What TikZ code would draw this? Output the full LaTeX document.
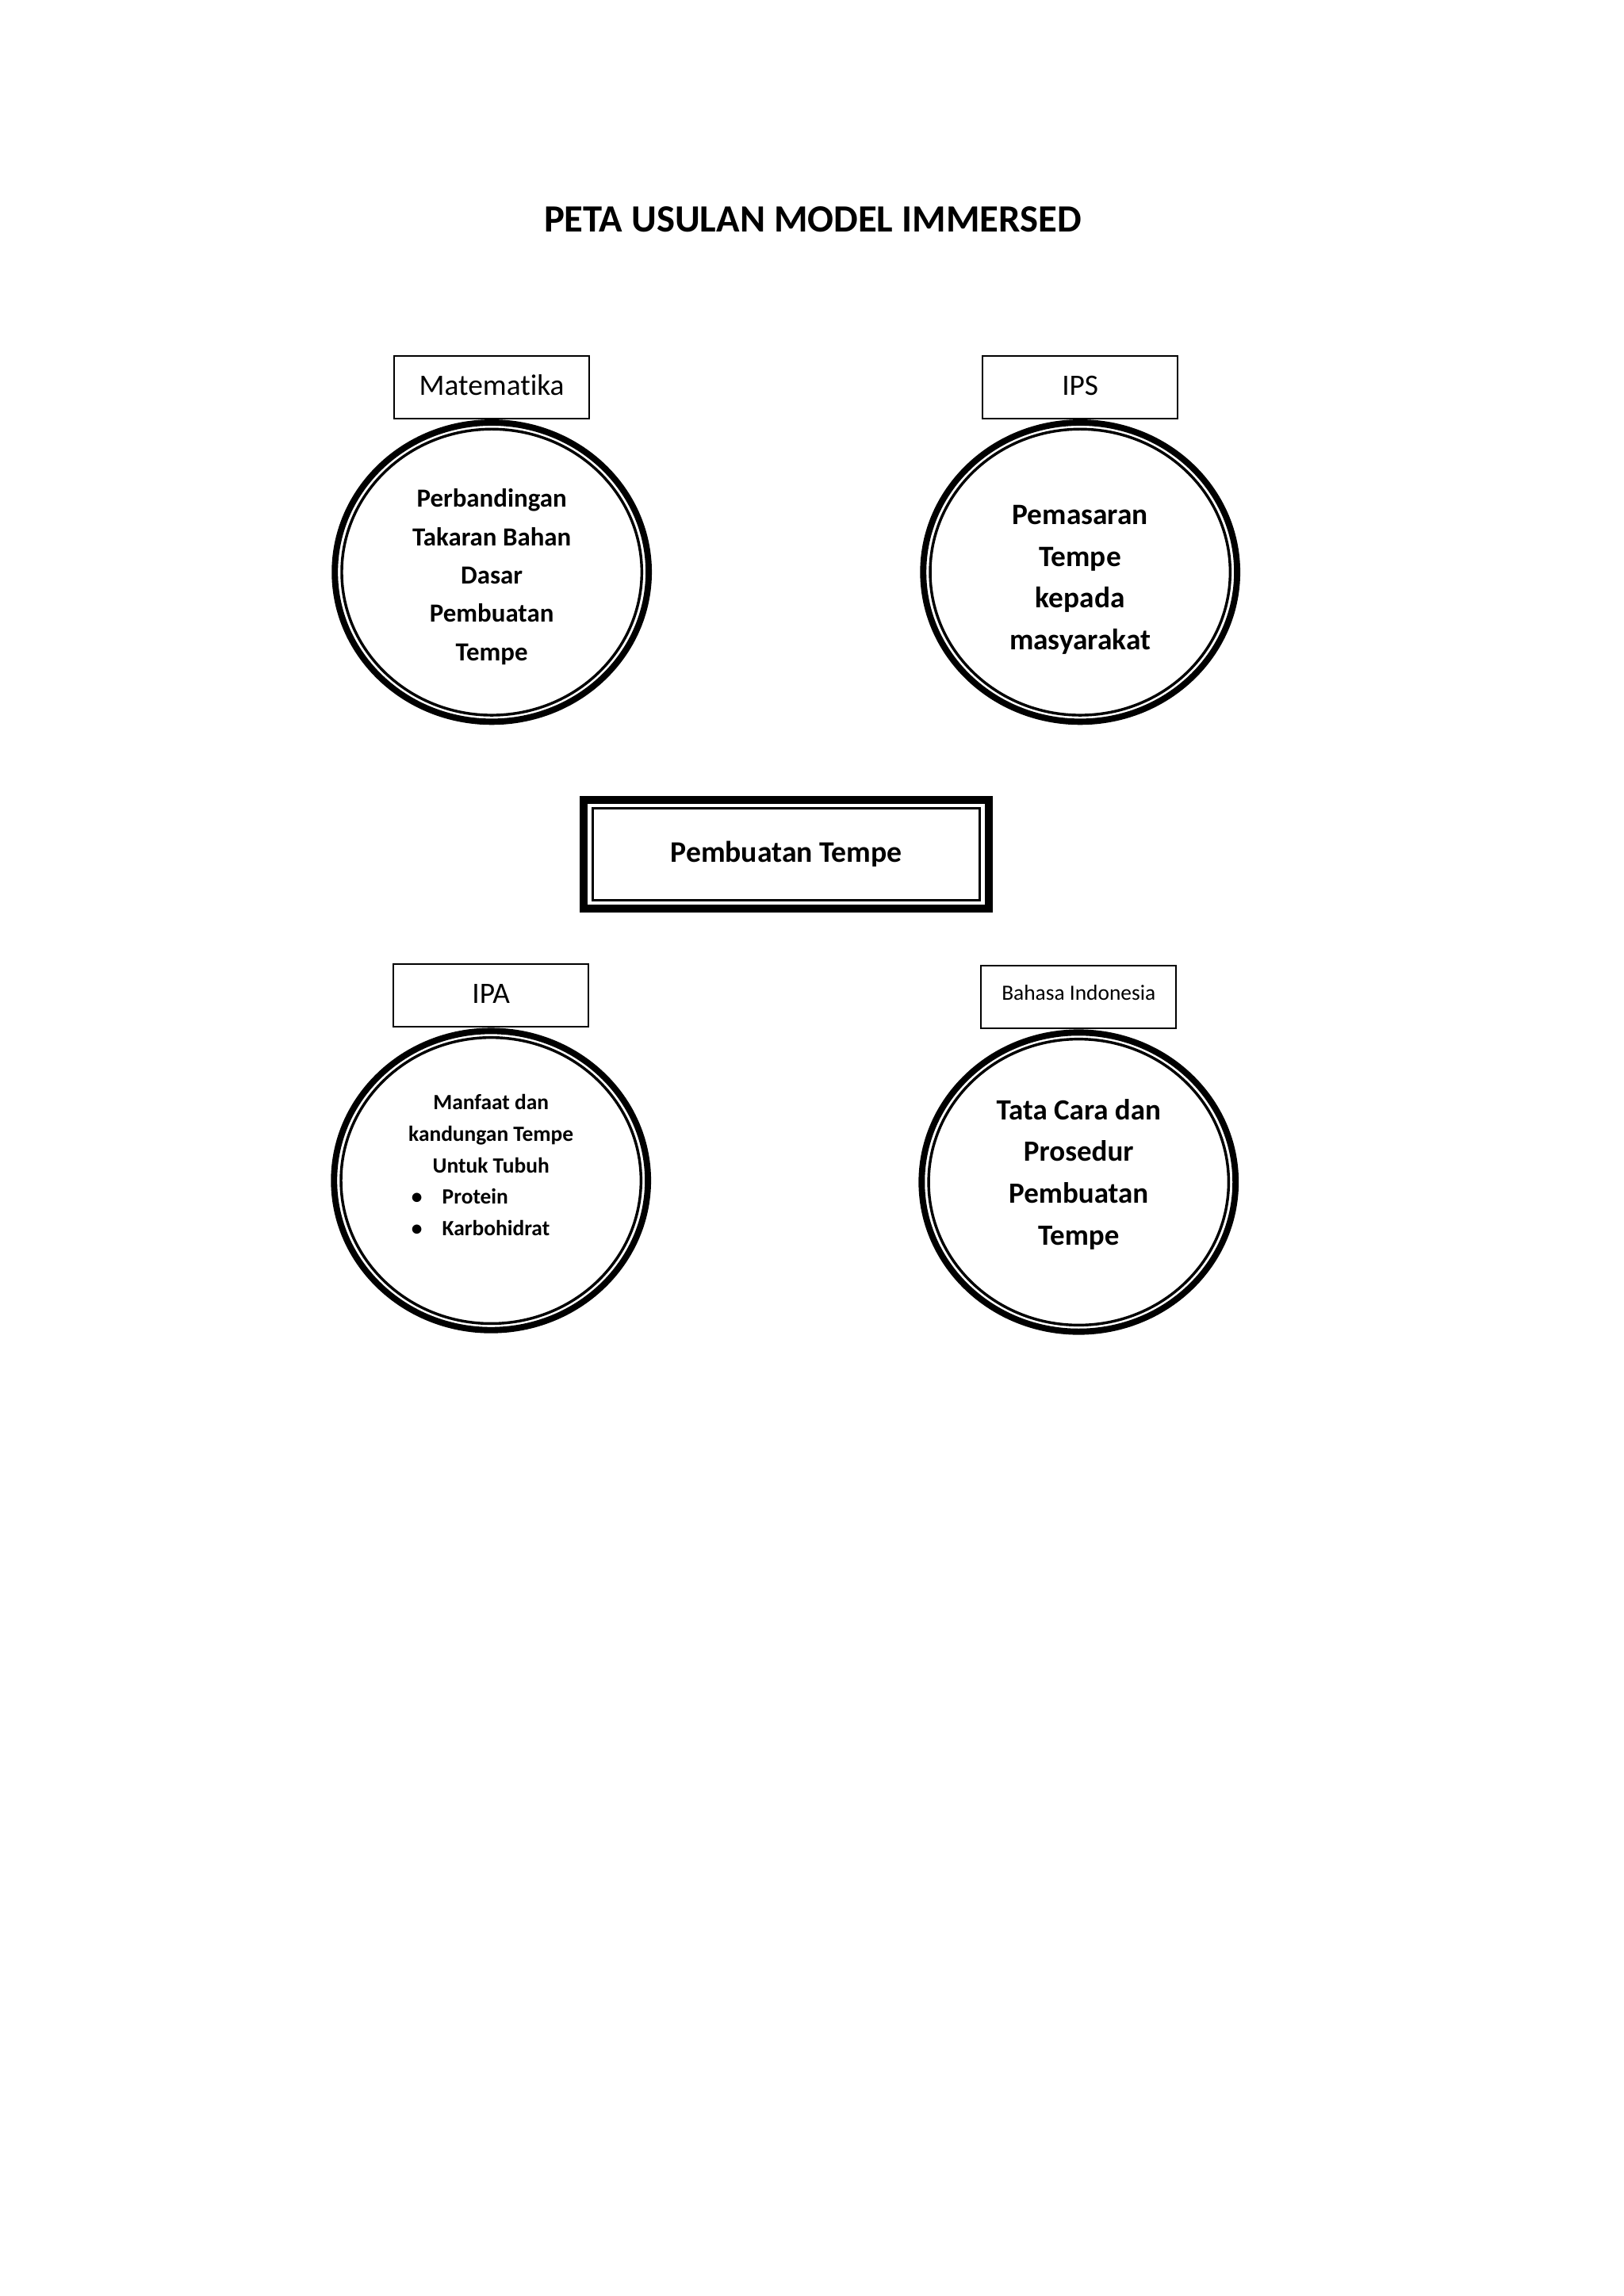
\documentclass[tikz,border=0pt]{standalone}
\usepackage{fontspec}
\setmainfont{Carlito}[Ligatures={NoCommon}]
\usetikzlibrary{shapes.geometric, positioning}
\tikzstyle{subject} = [rectangle, minimum width=2.52cm, minimum height=0.81cm, text centered, draw=black, line width=0.6pt, font=\fontsize{10.9}{13}\selectfont, text height=2.9mm, text depth=0.9mm]
\tikzstyle{ring} = [ellipse, minimum width=4.06cm, minimum height=3.87cm, inner sep=0pt, draw=black, line width=2.3pt]
\tikzstyle{rim} = [ellipse, minimum width=3.88cm, minimum height=3.70cm, inner sep=0pt, draw=black, line width=1pt]
\tikzstyle{topic} = [text centered, inner sep=0pt]
\tikzstyle{theme} = [rectangle, minimum width=5.24cm, minimum height=1.405cm, draw=black, line width=2.9pt]
\tikzstyle{themein} = [rectangle, minimum width=5.0cm, minimum height=1.19cm, text centered, draw=black, line width=0.9pt, font=\fontsize{11}{13}\selectfont\bfseries]

\begin{document}
\begin{tikzpicture}
      \useasboundingbox[fill=white] (0,0) rectangle (21,-29.7);

      \node (title) [anchor=base, font=\fontsize{14.2}{17}\selectfont\bfseries] at (10.51,-3.0) {PETA USULAN MODEL IMMERSED};

      % Subjects
      \node (mat) [subject] at (6.36,-5.01) {Matematika};
      \node (ips) [subject] at (13.97,-5.01) {IPS};
      \node (ipa) [subject] at (6.35,-12.88) {IPA};
      \node (bind) [subject, font=\fontsize{8}{10}\selectfont, text height=2.2mm, text depth=1.4mm] at (13.95,-12.90) {Bahasa Indonesia};

      % Circles
      \node (matring) [ring, below=0pt of mat] {};
      \node (matrim) [rim] at (matring.center) {};
      \node (mattext) [topic] at ([yshift=-0.06cm]matring.center) {\parbox{2.6cm}{\centering\fontsize{9.6}{14.1}\selectfont\bfseries Perbandingan\\ Takaran Bahan\\ Dasar\\ Pembuatan\\ Tempe}};

      \node (ipsring) [ring, below=0pt of ips] {};
      \node (ipsrim) [rim] at (ipsring.center) {};
      \node (ipstext) [topic] at ([yshift=-0.1cm]ipsring.center) {\parbox{2.6cm}{\centering\fontsize{10.9}{15.4}\selectfont\bfseries Pemasaran\\ Tempe\\ kepada\\ masyarakat}};

      \node (iparing) [ring, below=0pt of ipa] {};
      \node (iparim) [rim] at (iparing.center) {};
      \node (ipatext) [topic] at ([yshift=0.2cm]iparing.center) {\parbox{2.4cm}{\fontsize{8}{11.55}\selectfont\bfseries\centering Manfaat dan\\ kandungan Tempe\\ Untuk Tubuh\par\raggedright
            \makebox[0.57cm][l]{\hspace{0.17cm}\textbullet}Protein\\
            \makebox[0.57cm][l]{\hspace{0.17cm}\textbullet}Karbohidrat}};

      \node (bindring) [ring, below=0pt of bind] {};
      \node (bindrim) [rim] at (bindring.center) {};
      \node (bindtext) [topic] at ([yshift=0.1cm]bindring.center) {\parbox{2.6cm}{\centering\fontsize{10.8}{15.4}\selectfont\bfseries Tata Cara dan\\ Prosedur\\ Pembuatan\\ Tempe}};

      % Theme
      \node (tempe) [theme] at (10.17,-11.05) {};
      \node (tempetext) [themein] at (tempe.center) {Pembuatan Tempe};

\end{tikzpicture}
\end{document}
